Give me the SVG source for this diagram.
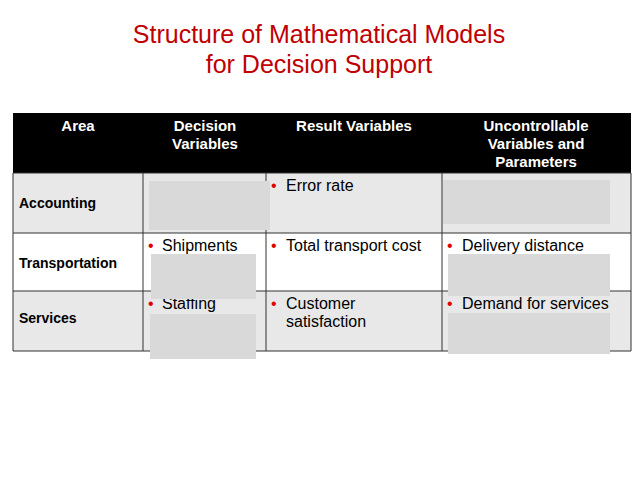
<svg xmlns="http://www.w3.org/2000/svg" width="638" height="478" viewBox="0 0 638 478">
<style>
text{font-family:"Liberation Sans",Arial,sans-serif}
.t{fill:#c00000;font-size:25px;text-anchor:middle}
.h{fill:#fff;font-size:15px;font-weight:bold;text-anchor:middle}
.a{fill:#000;font-size:14px;font-weight:bold}
.b{fill:#000;font-size:16px}
.d{fill:#e00000;font-size:16px}
.g{fill:#e8e8e8}
.r{fill:#d9d9d9}
.l{stroke:#333;stroke-width:1;fill:none}
</style>
<rect width="638" height="478" fill="#fff"/>
<g id="title">
<text class="t" x="319" y="43">Structure of Mathematical Models</text>
<text class="t" x="319" y="73">for Decision Support</text>
</g>
<g id="table">
<rect x="13" y="113" width="618" height="60" fill="#000"/>
<rect class="g" x="13" y="173" width="618" height="60"/>
<rect x="13" y="233" width="618" height="58" fill="#fff"/>
<rect class="g" x="13" y="291" width="618" height="60"/>
<text class="h" x="78" y="131">Area</text>
<text class="h" x="205" y="131">Decision</text>
<text class="h" x="205" y="149">Variables</text>
<text class="h" x="354" y="131">Result Variables</text>
<text class="h" x="536" y="131">Uncontrollable</text>
<text class="h" x="536" y="149">Variables and</text>
<text class="h" x="536" y="167">Parameters</text>
<text class="a" x="19" y="208">Accounting</text>
<text class="a" x="19" y="268">Transportation</text>
<text class="a" x="19" y="323">Services</text>
<text class="d" x="271" y="191">•</text><text class="b" x="286" y="191">Error rate</text>
<text class="d" x="148" y="251">•</text><text class="b" x="162" y="251">Shipments</text>
<text class="d" x="271" y="251">•</text><text class="b" x="286" y="251">Total transport cost</text>
<text class="d" x="447" y="251">•</text><text class="b" x="462" y="251">Delivery distance</text>
<text class="d" x="148" y="309">•</text><text class="b" x="162" y="309">Staffing</text>
<text class="d" x="271" y="309">•</text><text class="b" x="286" y="309">Customer</text>
<text class="b" x="286" y="327">satisfaction</text>
<text class="d" x="447" y="309">•</text><text class="b" x="462" y="309">Demand for services</text>
<path class="l" d="M13 173V351H631V173M13 173H631M13 233H631M13 291H631M143 173V351M266 173V351M442 173V351"/>
</g>
<g id="redactions">
<rect class="r" x="149" y="181" width="121" height="49"/>
<rect class="r" x="443" y="180" width="167" height="44"/>
<rect class="r" x="151" y="254" width="105" height="45"/>
<rect class="r" x="448" y="254" width="162" height="42"/>
<rect class="r" x="150" y="314" width="106" height="45"/>
<rect class="r" x="448" y="313" width="162" height="41"/>
</g>
</svg>
